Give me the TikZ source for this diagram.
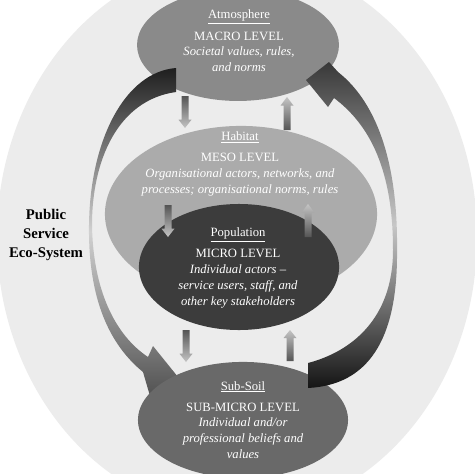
\documentclass[tikz,border=0pt]{standalone}
\usepackage{fontspec}
\setmainfont{Liberation Serif}
\usetikzlibrary{shapes.geometric,calc}

\definecolor{ecobg}{HTML}{ECECEC}
\definecolor{macrogray}{HTML}{8A8A8A}
\definecolor{mesogray}{HTML}{ABABAB}
\definecolor{microgray}{HTML}{3C3C3C}
\definecolor{subgray}{HTML}{696969}
\definecolor{arrdark}{HTML}{555555}
\definecolor{arrlight}{HTML}{C4C4C4}

\tikzset{
    lvl/.style={ellipse, inner sep=0pt, draw=none},
    lvltext/.style={text=white, align=center, font=\fontsize{12}{15}\selectfont},
    blk/.style={to path={($(\tikztostart)+(-3.5,0)$) -- ($(\tikztotarget)!0.26!(\tikztostart)+(-3.5,0)$)
        -- ($(\tikztotarget)!0.26!(\tikztostart)+(-6.5,0)$) -- (\tikztotarget)
        -- ($(\tikztotarget)!0.26!(\tikztostart)+(6.5,0)$) -- ($(\tikztotarget)!0.26!(\tikztostart)+(3.5,0)$)
        -- ($(\tikztostart)+(3.5,0)$) -- cycle}},
    blkdown/.style={blk, top color=arrdark, bottom color=arrlight},
    blkup/.style={blk, top color=arrlight, bottom color=arrdark},
    leftloop/.style={top color=black!88, bottom color=black!68, middle color=black!18},
    rightloop/.style={top color=black!78, bottom color=black!92, middle color=black!22}
}

\begin{document}
\begin{tikzpicture}[x=0.03333cm, y=-0.03333cm]
    \useasboundingbox (0,0) rectangle (474,474);
    \fill[white] (0,0) rectangle (474,474);

    \node[lvl, fill=ecobg, minimum width=16cm, minimum height=18.53cm] (eco) at (237,237) {};
    \node[lvl, fill=macrogray, minimum width=6.73cm, minimum height=3.73cm] (macro) at (238,45) {};
    \node[lvl, fill=mesogray, minimum width=9.07cm, minimum height=5.87cm] (meso) at (241,214) {};
    \node[lvl, fill=microgray, minimum width=6.67cm, minimum height=4.2cm] (micro) at (239,267) {};

    \shade[leftloop] (176,68) .. controls (125,72) and (90,140) .. (89,225)
        .. controls (88,300) and (110,345) .. (143,372) -- (150,396) -- (178,377) -- (153,346) -- (148,357)
        .. controls (115,335) and (93,290) .. (92,225) .. controls (92,160) and (118,100) .. (176,92) -- cycle;

    \node[lvl, fill=subgray, minimum width=7cm, minimum height=3.87cm] (submicro) at (243,420) {};

    \shade[rightloop] (308,388) -- (308,363) .. controls (350,352) and (393,320) .. (393,250)
        .. controls (393,170) and (370,125) .. (334,98) -- (328,107) -- (306,80) -- (329,62) -- (338,72)
        .. controls (380,105) and (398,170) .. (397,250) .. controls (398,340) and (368,385) .. (308,388) -- cycle;

    \coordinate (d1a) at (185,96);
    \coordinate (d1b) at (185,128);
    \coordinate (u1a) at (287,130);
    \coordinate (u1b) at (287,97);
    \coordinate (d2a) at (168,205);
    \coordinate (d2b) at (168,237);
    \coordinate (u2a) at (308,237);
    \coordinate (u2b) at (308,204);
    \coordinate (d3a) at (186,330);
    \coordinate (d3b) at (186,362);
    \coordinate (u3a) at (290,361);
    \coordinate (u3b) at (290,330);

    \shade[blkdown] (d1a) to (d1b);
    \shade[blkup] (u1a) to (u1b);
    \shade[blkdown] (d2a) to (d2b);
    \shade[blkup] (u2a) to (u2b);
    \shade[blkdown] (d3a) to (d3b);
    \shade[blkup] (u3a) to (u3b);

    \node[lvltext] (macrotxt) at (239,41) {\underline{Atmosphere}\\[5pt] MACRO LEVEL\\ \textit{Societal values, rules,}\\ \textit{and norms}};
    \node[lvltext] (mesotxt) at (240,164) {\underline{Habitat}\\[5pt] MESO LEVEL\\ \textit{Organisational actors, networks, and}\\ \textit{processes; organisational norms, rules}};
    \node[lvltext] (microtxt) at (238,268) {\underline{Population}\\[5pt] MICRO LEVEL\\ \textit{Individual actors --}\\ \textit{service users, staff, and}\\ \textit{other key stakeholders}};
    \node[lvltext] (subtxt) at (243,420) {\underline{Sub-Soil}\\[5pt] SUB-MICRO LEVEL\\ \textit{Individual and/or}\\ \textit{professional beliefs and}\\ \textit{values}};
    \node[align=center, font=\bfseries\fontsize{14}{18}\selectfont] (ecotxt) at (46,235) {Public\\ Service\\ Eco-System};
\end{tikzpicture}
\end{document}
